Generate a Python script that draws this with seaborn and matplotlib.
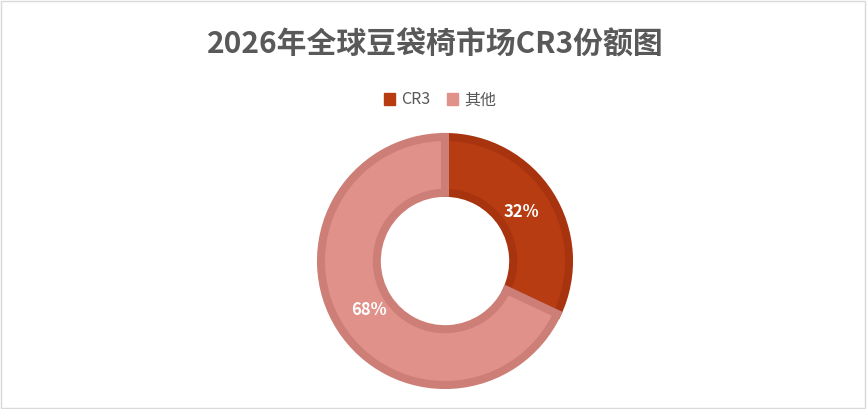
import matplotlib
matplotlib.use("Agg")
import matplotlib.pyplot as plt
import seaborn as sns
from matplotlib.patches import Rectangle, Patch

labels = ["CR3", "其他"]
shares = [32, 68]
fills = ["#B83C12", "#E0918A"]
edges = ["#A8340F", "#CC7E77"]

sns.set_theme(style="white")
plt.rcParams['font.family'] = ['Noto Sans CJK SC', 'DejaVu Sans']

fig = plt.figure(figsize=(8.67, 4.09), dpi=100)
fig.patches.append(Rectangle((0.001, 0.002), 0.997, 0.995, transform=fig.transFigure,
                             fill=False, edgecolor="#D9D9D9", linewidth=1))

cx, cy, r = 445, 409 - 261, 124
ax = fig.add_axes([(cx - r) / 867, (cy - r) / 409, 2 * r / 867, 2 * r / 409])
wedges, texts, autotexts = ax.pie(
    shares, colors=fills, startangle=90, counterclock=False,
    autopct="%d%%", pctdistance=0.73,
    wedgeprops=dict(width=0.45, linewidth=5.8),
    textprops=dict(color="white", fontsize=12, fontweight="bold"))
for w, ec in zip(wedges, edges):
    w.set_edgecolor(ec)
ax.set_xlim(-1, 1)
ax.set_ylim(-1, 1)
ax.set_aspect("equal")
ax.axis("off")

fig.text(435 / 867, 1 - 45 / 409, "2026年全球豆袋椅市场CR3份额图", ha="center", va="center",
         fontsize=21.5, fontweight="bold", color="#595959")

handles = [Patch(facecolor=f, edgecolor=f) for f in fills]
fig.legend(handles, labels, loc="center", bbox_to_anchor=(440 / 867, 1 - 100 / 409),
           ncol=2, frameon=False, fontsize=11.5, labelcolor="#595959",
           handlelength=0.7, handleheight=0.7, handletextpad=0.4, columnspacing=1.0)

fig.savefig("out.png", dpi=100)
